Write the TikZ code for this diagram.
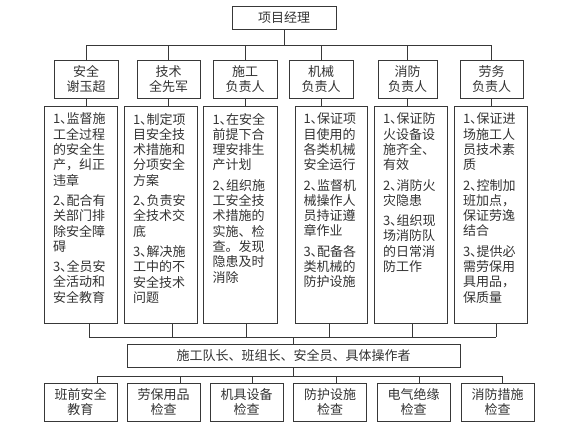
\documentclass[tikz,border=0pt]{standalone}
\usepackage{fontspec}
\usepackage{tikz}
\newfontfamily\cjk{Noto Sans CJK SC}
\colorlet{colLine}{black!78}
\colorlet{colText}{black!80}
\newcommand{\itemno}[1]{\makebox[1.05em][l]{#1、}}
\newcommand{\dutytext}[1]{\parbox[c][203pt][t]{55pt}{\fontsize{13}{15.3}\selectfont #1}}

\begin{document}
\begin{tikzpicture}[x=1pt, y=1pt, font=\cjk\fontsize{13}{15}\selectfont,
    box/.style={draw=colLine, line width=0.9pt, text=colText, align=center, inner sep=0pt},
    link/.style={draw=colLine, line width=0.9pt}]

\useasboundingbox (0,0) rectangle (576,432);

% 项目经理
\node[box, minimum width=104pt, minimum height=23pt] (pm) at (284,414.5) {项目经理};

% 各负责人
\foreach \i/\x/\w/\lab in {1/86/64/{安全\\谢玉超}, 2/168.5/63/{技术\\全先军},
    3/245/64/{施工\\负责人}, 4/321/64/{机械\\负责人},
    5/407.5/59/{消防\\负责人}, 6/491.5/63/{劳务\\负责人}} {
    \node[box, minimum width=\w pt, minimum height=38pt] (head\i) at (\x,353) {\lab};
}

% 职责
\foreach \i/\x/\w/\txt in {
    1/80.5/73/{\itemno{1}监督施\\工全过程\\的安全生\\产，纠正\\违章\\[5pt]
        \itemno{2}配合有\\关部门排\\除安全障\\碍\\[5pt]
        \itemno{3}全员安\\全活动和\\安全教育},
    2/160.5/73/{\itemno{1}制定项\\目安全技\\术措施和\\分项安全\\方案\\[5pt]
        \itemno{2}负责安\\全技术交\\底\\[5pt]
        \itemno{3}解决施\\工中的不\\安全技术\\问题},
    3/240/74/{\itemno{1}在安全\\前提下合\\理安排生\\产计划\\[5pt]
        \itemno{2}组织施\\工安全技\\术措施的\\实施、检\\查。发现\\隐患及时\\消除},
    4/331/72/{\itemno{1}保证项\\目使用的\\各类机械\\安全运行\\[5pt]
        \itemno{2}监督机\\械操作人\\员持证遵\\章作业\\[5pt]
        \itemno{3}配备各\\类机械的\\防护设施},
    5/410.5/73/{\itemno{1}保证防\\火设备设\\施齐全、\\有效\\[5pt]
        \itemno{2}消防火\\灾隐患\\[5pt]
        \itemno{3}组织现\\场消防队\\的日常消\\防工作},
    6/490.5/73/{\itemno{1}保证进\\场施工人\\员技术素\\质\\[5pt]
        \itemno{2}控制加\\班加点，\\保证劳逸\\结合\\[5pt]
        \itemno{3}提供必\\需劳保用\\具用品，\\保质量}} {
    \node[box, minimum width=\w pt, minimum height=217pt] (duty\i) at (\x,217.5)
        {\dutytext{\txt}};
}

% 操作层
\node[box, minimum width=333pt, minimum height=23pt] (crew) at (293.5,76.5)
    {施工队长、班组长、安全员、具体操作者};

% 检查项
\foreach \i/\x/\lab in {1/80.5/{班前安全\\教育}, 2/163.5/{劳保用品\\检查},
    3/246.5/{机具设备\\检查}, 4/330/{防护设施\\检查},
    5/413.5/{电气绝缘\\检查}, 6/497.5/{消防措施\\检查}} {
    \node[box, minimum width=73pt, minimum height=38pt] (check\i) at (\x,30) {\lab};
}

% 连线：项目经理 -> 负责人
\coordinate (busTop) at (0,387);
\draw[link] (pm.south) -- (pm.south |- busTop);
\draw[link] (head1.north |- busTop) -- (head6.north |- busTop);
\foreach \i in {1,...,6}
    \draw[link] (head\i.north) -- (head\i.north |- busTop);

% 负责人 -> 职责
\foreach \i in {1,...,6}
    \draw[link] (head\i.south) -- (head\i.south |- duty\i.north);

% 职责 -> 操作层
\coordinate (busMid) at (0,95);
\foreach \i/\o in {1/8.5, 2/12, 3/6, 4/-2, 5/2, 6/5.5} {
    \coordinate (up\i) at ([xshift=\o pt]duty\i.south);
    \draw[link] (up\i) -- (up\i |- busMid);
}
\draw[link] (up1 |- busMid) -- (up6 |- busMid);
\draw[link] (crew.north) -- (crew.north |- busMid);

% 操作层 -> 检查项
\coordinate (busLow) at (0,56);
\draw[link] (crew.south) -- (crew.south |- busLow);
\foreach \i/\o in {1/16.5, 2/16.5, 3/5.5, 4/6, 5/5.5, 6/4.5} {
    \coordinate (dn\i) at ([xshift=\o pt]check\i.north);
    \draw[link] (dn\i) -- (dn\i |- busLow);
}
\draw[link] (dn1 |- busLow) -- (dn6 |- busLow);

\end{tikzpicture}
\end{document}
